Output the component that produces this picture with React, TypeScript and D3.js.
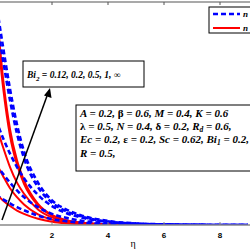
import * as d3 from "d3";

// eta grid and curve values
const eta = [0, 0.25, 0.5, 0.75, 1, 1.5, 2, 2.5, 3, 4, 5, 6, 7, 8, 9];

const blueInf = [1.0, 0.8, 0.61, 0.45, 0.33, 0.19, 0.11, 0.07, 0.045, 0.018, 0.007, 0.003, 0.001, 0, 0];
const blue1 = [0.93, 0.74, 0.56, 0.41, 0.3, 0.17, 0.1, 0.062, 0.04, 0.015, 0.006, 0.002, 0.001, 0, 0];
const blue05 = [0.47, 0.39, 0.32, 0.26, 0.21, 0.135, 0.085, 0.054, 0.035, 0.014, 0.006, 0.002, 0.001, 0, 0];
const blue02 = [0.27, 0.23, 0.19, 0.155, 0.125, 0.08, 0.05, 0.032, 0.02, 0.008, 0.003, 0.001, 0, 0, 0];
const blue012 = [0.135, 0.115, 0.097, 0.08, 0.066, 0.042, 0.026, 0.017, 0.011, 0.004, 0.002, 0.001, 0, 0, 0];

const redInf = [1.0, 0.66, 0.43, 0.29, 0.2, 0.095, 0.045, 0.022, 0.011, 0.003, 0.001, 0, 0, 0, 0];
const red1 = [0.93, 0.62, 0.4, 0.27, 0.185, 0.088, 0.042, 0.02, 0.01, 0.003, 0.001, 0, 0, 0, 0];
const red05 = [0.45, 0.35, 0.26, 0.19, 0.14, 0.07, 0.034, 0.017, 0.009, 0.002, 0.001, 0, 0, 0, 0];
const red02 = [0.28, 0.22, 0.165, 0.125, 0.092, 0.048, 0.024, 0.012, 0.006, 0.002, 0, 0, 0, 0, 0];
const red012 = [0.14, 0.11, 0.085, 0.065, 0.05, 0.028, 0.015, 0.008, 0.004, 0.001, 0, 0, 0, 0, 0];

const blueSeries = [blueInf, blue1, blue05, blue02, blue012];
const redSeries = [redInf, red1, red05, red02, red012];
const xTicks = [2, 4, 6, 8];

export default function App() {
  const x = d3.scaleLinear().domain([0, 9]).range([-4, 248]);
  const y = d3.scaleLinear().domain([0, 1]).range([225, 2]);
  const line = d3
    .line<number>()
    .x((d, i) => x(eta[i]))
    .y((d) => y(d))
    .curve(d3.curveMonotoneX);

  const serif = "'Liberation Serif', 'Times New Roman', serif";

  return (
    <svg
      width={250}
      height={250}
      style={{ position: "absolute", left: 0, top: 0, background: "#fff" }}
    >
      <defs>
        <clipPath id="plot">
          <rect x={-4} y={2} width={262} height={223} />
        </clipPath>
      </defs>

      {/* curves */}
      <g clipPath="url(#plot)" fill="none">
        {redSeries.map((s, i) => (
          <path key={"r" + i} d={line(s) || ""} stroke="#ff0000" strokeWidth={2} />
        ))}
        {blueSeries.map((s, i) => (
          <path
            key={"b" + i}
            d={line(s) || ""}
            stroke="#0000ff"
            strokeWidth={2.6}
            strokeDasharray="5,3"
          />
        ))}
      </g>

      {/* frame */}
      <line x1={0} x2={250} y1={2} y2={2} stroke="#555" strokeWidth={1.2} />
      <line x1={0} x2={250} y1={225} y2={225} stroke="#888" strokeWidth={1.5} />
      {xTicks.map((t) => (
        <g key={t}>
          <line x1={x(t)} x2={x(t)} y1={2} y2={5} stroke="#555" />
          <line x1={x(t)} x2={x(t)} y1={225} y2={222} stroke="#888" />
          <text
            x={x(t)}
            y={238}
            textAnchor="middle"
            fontSize={8}
            fontWeight="bold"
            fontFamily="'Liberation Sans', Arial, sans-serif"
          >
            {t}
          </text>
        </g>
      ))}
      <text x={133} y={247} textAnchor="middle" fontSize={10} fontFamily={serif}>
        η
      </text>

      {/* legend */}
      <rect x={209} y={7} width={48} height={26} fill="#fff" stroke="#000" strokeWidth={1} />
      <line x1={213} x2={240} y1={14} y2={14} stroke="#0000ff" strokeWidth={2.6} strokeDasharray="5,3" />
      <line x1={213} x2={240} y1={28} y2={28} stroke="#ff0000" strokeWidth={2} />
      <text x={243} y={17} fontSize={9} fontStyle="italic" fontWeight="bold" fontFamily={serif}>n</text>
      <text x={243} y={31} fontSize={9} fontStyle="italic" fontWeight="bold" fontFamily={serif}>n</text>

      {/* arrow */}
      <line x1={2} y1={220} x2={47} y2={96} stroke="#000" strokeWidth={1.5} />
      <path d="M50,88 L51.5,98 L44,95.5 Z" fill="#000" />

      {/* Bi2 box */}
      <rect x={23} y={61} width={121} height={26} fill="#fff" stroke="#000" strokeWidth={1} />
      <text x={27} y={78} fontSize={9.5} fontStyle="italic" fontWeight="bold" fontFamily={serif}>
        Bi<tspan dy={2.5} fontSize={7}>2</tspan>
        <tspan dy={-2.5}> = 0.12, 0.2, 0.5, 1, ∞</tspan>
      </text>

      {/* parameter box */}
      <rect x={76} y={105} width={182} height={66} fill="#fff" stroke="#000" strokeWidth={1} />
      <g fontSize={11} fontStyle="italic" fontWeight="bold" fontFamily={serif}>
        <text x={80} y={117}>
          A = 0.2, <tspan fontStyle="normal">β</tspan> = 0.6, M = 0.4, K = 0.6
        </text>
        <text x={80} y={130}>
          <tspan fontStyle="normal">λ</tspan> = 0.5, N = 0.4, <tspan fontStyle="normal">δ</tspan> = 0.2, R
          <tspan dy={2} fontSize={7.5}>d</tspan>
          <tspan dy={-2}> = 0.6,</tspan>
        </text>
        <text x={80} y={143}>
          Ec = 0.2, <tspan fontStyle="normal">ε</tspan> = 0.2, Sc = 0.62, Bi
          <tspan dy={2} fontSize={7.5}>1</tspan>
          <tspan dy={-2}> = 0.2,</tspan>
        </text>
        <text x={80} y={157}>R = 0.5,</text>
      </g>
    </svg>
  );
}
